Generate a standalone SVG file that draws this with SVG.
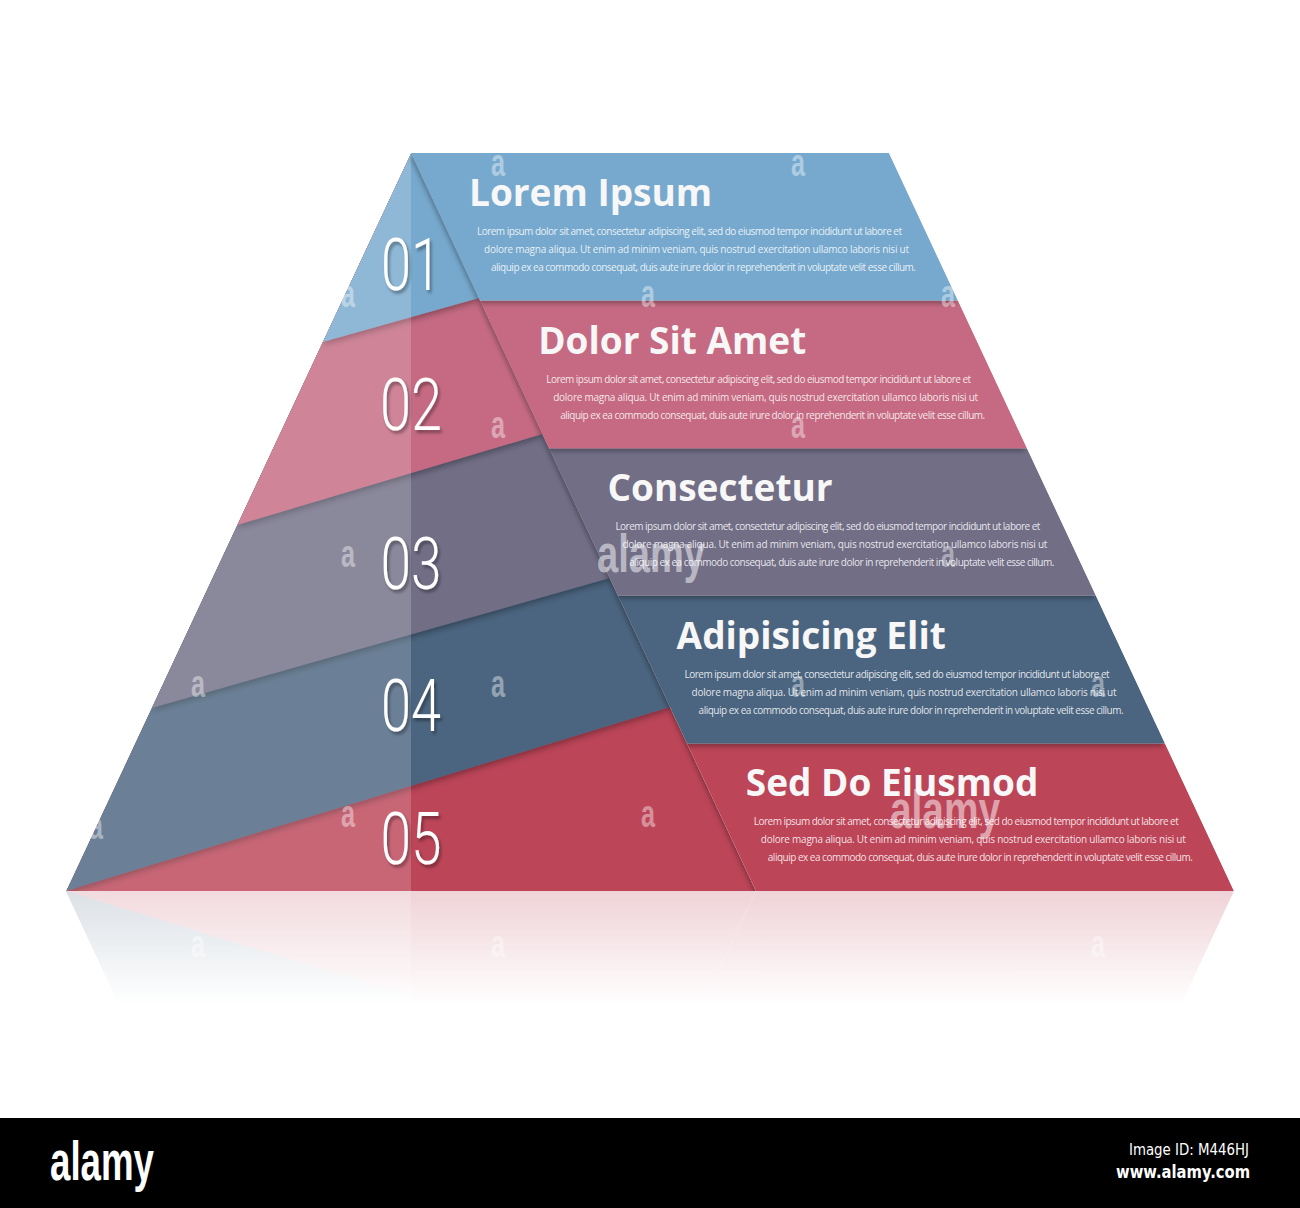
<svg xmlns="http://www.w3.org/2000/svg" width="1300" height="1208" viewBox="0 0 1300 1208">
<style>
.title{font-family:"Open Sans","Liberation Sans",sans-serif;font-weight:700;font-size:37px;fill:#f7f7f7}
.body{font-family:"Open Sans","Liberation Sans",sans-serif;font-size:10px;fill:#ffffff;fill-opacity:0.85}
.num{font-family:Roboto,"Liberation Sans",sans-serif;font-weight:300;font-size:72px;fill:#ffffff;text-anchor:middle}
.wm{font-family:"Liberation Sans",sans-serif;font-weight:700;font-size:38px;fill:#ffffff;fill-opacity:0.42;text-anchor:middle}
.wmbig{font-family:"Liberation Sans",sans-serif;font-weight:700;font-size:54px;fill:#ffffff;fill-opacity:0.5}
</style>
<defs>
<clipPath id="trap"><polygon points="411,153 889,153 1234,891 66,891"/></clipPath>
<clipPath id="leftReg"><polygon points="411,153 756,891 66,891"/></clipPath>
<filter id="sh" x="-10%" y="-10%" width="120%" height="130%">
<feDropShadow dx="0" dy="3" stdDeviation="3" flood-color="#000" flood-opacity="0.32"/>
</filter>
<filter id="shp" x="-10%" y="-10%" width="120%" height="130%">
<feDropShadow dx="-1" dy="3" stdDeviation="2.5" flood-color="#000" flood-opacity="0.3"/>
</filter>
<filter id="numsh" x="-20%" y="-20%" width="140%" height="140%">
<feDropShadow dx="2" dy="3" stdDeviation="1.5" flood-color="#000" flood-opacity="0.35"/>
</filter>
<linearGradient id="reflGrad" gradientUnits="userSpaceOnUse" x1="0" y1="891" x2="0" y2="1005">
<stop offset="0" stop-color="#fff" stop-opacity="0.24"/>
<stop offset="1" stop-color="#fff" stop-opacity="0"/>
</linearGradient>
<mask id="reflMask" maskUnits="userSpaceOnUse" x="0" y="891" width="1300" height="130">
<rect x="0" y="891" width="1300" height="130" fill="url(#reflGrad)"/>
</mask>
</defs>
<rect width="1300" height="1208" fill="#ffffff"/>

<!-- reflection -->
<g id="reflection" mask="url(#reflMask)">
<g transform="translate(0,1782) scale(1,-1)">
<polygon points="411,153 756,891 66,891" fill="#bc4558"/>
<polygon points="411,153 670,707 66,891" fill="#4b6580"/>
<polygon points="687,743.4 1165,743.4 1234,891 756,891" fill="#bc4558"/>
<rect x="0" y="600" width="411" height="300" fill="#ffffff" fill-opacity="0.18"/>
</g>
</g>

<g id="pyramid" clip-path="url(#trap)">
<g id="left-bands" clip-path="url(#leftReg)">
<polygon id="lb5" points="411,153 756,891 66,891" fill="#bc4558"/>
<polygon id="lb4" points="411,153 670,707 66,891" fill="#4b6580" filter="url(#sh)"/>
<polygon id="lb3" points="411,153 609.7,578 151.5,708" fill="#716e86" filter="url(#sh)"/>
<polygon id="lb2" points="411,153 542,434 237,525" fill="#c56a82" filter="url(#sh)"/>
<polygon id="lb1" points="411,153 479,298 322.6,342" fill="#76a9cd" filter="url(#sh)"/>
<rect x="0" y="150" width="411" height="745" fill="#ffffff" fill-opacity="0.18"/>
</g>
<g id="panel5"><polygon points="687,743.4 1165,743.4 1234,891 756,891" fill="#bc4558" filter="url(#shp)"/></g>
<g id="panel4"><polygon points="618,595.8 1096,595.8 1165,743.4 687,743.4" fill="#4b6580" filter="url(#shp)"/></g>
<g id="panel3"><polygon points="549,448.2 1027,448.2 1096,595.8 618,595.8" fill="#716e86" filter="url(#shp)"/></g>
<g id="panel2"><polygon points="480,300.6 958,300.6 1027,448.2 549,448.2" fill="#c56a82" filter="url(#shp)"/></g>
<g id="panel1"><polygon points="411,153 889,153 958,300.6 480,300.6" fill="#76a9cd" filter="url(#shp)"/></g>
</g>

<g id="numbers" filter="url(#numsh)">
<text class="num" x="411" y="290" textLength="60" lengthAdjust="spacingAndGlyphs">01</text>
<text class="num" x="411" y="430" textLength="62" lengthAdjust="spacingAndGlyphs">02</text>
<text class="num" x="411" y="589" textLength="61" lengthAdjust="spacingAndGlyphs">03</text>
<text class="num" x="411" y="731" textLength="60" lengthAdjust="spacingAndGlyphs">04</text>
<text class="num" x="411" y="864" textLength="61" lengthAdjust="spacingAndGlyphs">05</text>
</g>

<g id="text1">
<text class="title" x="469" y="206">Lorem Ipsum</text>
<text class="body" x="477" y="235" textLength="425" lengthAdjust="spacing">Lorem ipsum dolor sit amet, consectetur adipiscing elit, sed do eiusmod tempor incididunt ut labore et</text>
<text class="body" x="484" y="253" textLength="425" lengthAdjust="spacing">dolore magna aliqua. Ut enim ad minim veniam, quis nostrud exercitation ullamco laboris nisi ut</text>
<text class="body" x="491" y="271" textLength="425" lengthAdjust="spacing">aliquip ex ea commodo consequat, duis aute irure dolor in reprehenderit in voluptate velit esse cillum.</text>
</g>
<g id="text2" transform="translate(69.2,147.6)">
<text class="title" x="469" y="206">Dolor Sit Amet</text>
<text class="body" x="477" y="235" textLength="425" lengthAdjust="spacing">Lorem ipsum dolor sit amet, consectetur adipiscing elit, sed do eiusmod tempor incididunt ut labore et</text>
<text class="body" x="484" y="253" textLength="425" lengthAdjust="spacing">dolore magna aliqua. Ut enim ad minim veniam, quis nostrud exercitation ullamco laboris nisi ut</text>
<text class="body" x="491" y="271" textLength="425" lengthAdjust="spacing">aliquip ex ea commodo consequat, duis aute irure dolor in reprehenderit in voluptate velit esse cillum.</text>
</g>
<g id="text3" transform="translate(138.4,295.2)">
<text class="title" x="469" y="206">Consectetur</text>
<text class="body" x="477" y="235" textLength="425" lengthAdjust="spacing">Lorem ipsum dolor sit amet, consectetur adipiscing elit, sed do eiusmod tempor incididunt ut labore et</text>
<text class="body" x="484" y="253" textLength="425" lengthAdjust="spacing">dolore magna aliqua. Ut enim ad minim veniam, quis nostrud exercitation ullamco laboris nisi ut</text>
<text class="body" x="491" y="271" textLength="425" lengthAdjust="spacing">aliquip ex ea commodo consequat, duis aute irure dolor in reprehenderit in voluptate velit esse cillum.</text>
</g>
<g id="text4" transform="translate(207.6,442.8)">
<text class="title" x="469" y="206">Adipisicing Elit</text>
<text class="body" x="477" y="235" textLength="425" lengthAdjust="spacing">Lorem ipsum dolor sit amet, consectetur adipiscing elit, sed do eiusmod tempor incididunt ut labore et</text>
<text class="body" x="484" y="253" textLength="425" lengthAdjust="spacing">dolore magna aliqua. Ut enim ad minim veniam, quis nostrud exercitation ullamco laboris nisi ut</text>
<text class="body" x="491" y="271" textLength="425" lengthAdjust="spacing">aliquip ex ea commodo consequat, duis aute irure dolor in reprehenderit in voluptate velit esse cillum.</text>
</g>
<g id="text5" transform="translate(276.8,590.4)">
<text class="title" x="469" y="206">Sed Do Eiusmod</text>
<text class="body" x="477" y="235" textLength="425" lengthAdjust="spacing">Lorem ipsum dolor sit amet, consectetur adipiscing elit, sed do eiusmod tempor incididunt ut labore et</text>
<text class="body" x="484" y="253" textLength="425" lengthAdjust="spacing">dolore magna aliqua. Ut enim ad minim veniam, quis nostrud exercitation ullamco laboris nisi ut</text>
<text class="body" x="491" y="271" textLength="425" lengthAdjust="spacing">aliquip ex ea commodo consequat, duis aute irure dolor in reprehenderit in voluptate velit esse cillum.</text>
</g>

<g id="watermarks">
<text class="wm" x="498" y="176" textLength="14" lengthAdjust="spacingAndGlyphs">a</text>
<text class="wm" x="798" y="176" textLength="14" lengthAdjust="spacingAndGlyphs">a</text>
<text class="wm" x="348" y="307" textLength="14" lengthAdjust="spacingAndGlyphs">a</text>
<text class="wm" x="648" y="307" textLength="14" lengthAdjust="spacingAndGlyphs">a</text>
<text class="wm" x="948" y="307" textLength="14" lengthAdjust="spacingAndGlyphs">a</text>
<text class="wm" x="498" y="438" textLength="14" lengthAdjust="spacingAndGlyphs">a</text>
<text class="wm" x="798" y="438" textLength="14" lengthAdjust="spacingAndGlyphs">a</text>
<text class="wm" x="348" y="567" textLength="14" lengthAdjust="spacingAndGlyphs">a</text>
<text class="wm" x="948" y="567" textLength="14" lengthAdjust="spacingAndGlyphs">a</text>
<text class="wm" x="198" y="697" textLength="14" lengthAdjust="spacingAndGlyphs">a</text>
<text class="wm" x="498" y="697" textLength="14" lengthAdjust="spacingAndGlyphs">a</text>
<text class="wm" x="798" y="697" textLength="14" lengthAdjust="spacingAndGlyphs">a</text>
<text class="wm" x="1098" y="697" textLength="14" lengthAdjust="spacingAndGlyphs">a</text>
<text class="wm" x="96" y="839" textLength="14" lengthAdjust="spacingAndGlyphs">a</text>
<text class="wm" x="348" y="827" textLength="14" lengthAdjust="spacingAndGlyphs">a</text>
<text class="wm" x="648" y="827" textLength="14" lengthAdjust="spacingAndGlyphs">a</text>
<text class="wm" x="198" y="957" textLength="14" lengthAdjust="spacingAndGlyphs">a</text>
<text class="wm" x="498" y="957" textLength="14" lengthAdjust="spacingAndGlyphs">a</text>
<text class="wm" x="1098" y="957" textLength="14" lengthAdjust="spacingAndGlyphs">a</text>
<text class="wmbig" x="597" y="572" textLength="108" lengthAdjust="spacingAndGlyphs">alamy</text>
<text class="wmbig" x="890" y="828" textLength="110" lengthAdjust="spacingAndGlyphs">alamy</text>
</g>

<g id="footer">
<rect x="0" y="1118" width="1300" height="90" fill="#000000"/>
<text x="50" y="1180" font-family="'Liberation Sans',sans-serif" font-weight="700" font-size="56" fill="#ffffff" textLength="104" lengthAdjust="spacingAndGlyphs">alamy</text>
<text x="1249" y="1155" font-family="'DejaVu Sans',sans-serif" font-size="15" fill="#ffffff" text-anchor="end" textLength="120" lengthAdjust="spacingAndGlyphs">Image ID: M446HJ</text>
<text x="1250" y="1178" font-family="'DejaVu Sans',sans-serif" font-weight="700" font-size="17" fill="#ffffff" text-anchor="end" textLength="134" lengthAdjust="spacingAndGlyphs">www.alamy.com</text>
</g>
</svg>
